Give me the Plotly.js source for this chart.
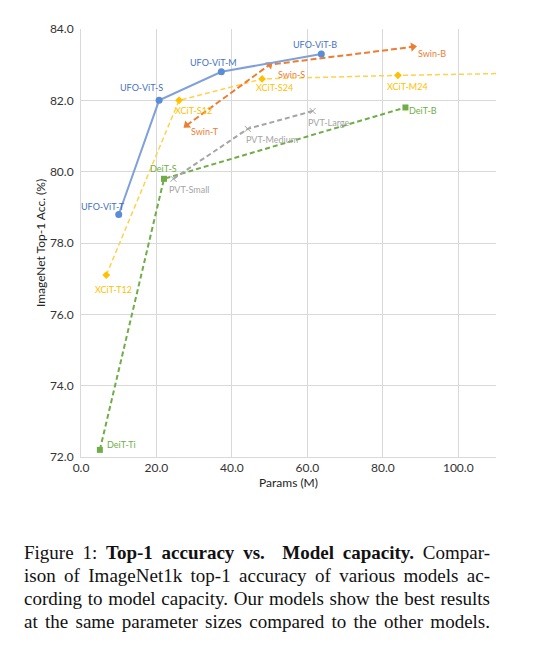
<!DOCTYPE html>
<html>
<head>
<meta charset="utf-8">
<script src="https://cdn.plot.ly/plotly-3.0.1.min.js"></script>
<style>
    body { margin: 0; background: white; }
    #chart { position: absolute; left: 0; top: 0; width: 537px; height: 510px; }
    #caption {
        position: absolute; left: 24px; top: 541px; width: 466px;
        font-family: "Liberation Serif", "DejaVu Serif", serif;
        font-size: 19px; line-height: 23px; color: #111;
    }
    #caption div { text-align: justify; text-align-last: justify; white-space: nowrap; }
</style>
</head>
<body>
<div id="chart"></div>
<div id="caption">
    <div>Figure 1: <b>Top-1 accuracy vs.&nbsp; Model capacity.</b> Compar-</div>
    <div>ison of ImageNet1k top-1 accuracy of various models ac-</div>
    <div>cording to model capacity. Our models show the best results</div>
    <div>at the same parameter sizes compared to the other models.</div>
</div>
<script>
// Params (M) and top-1 accuracy (%) for each model family
const ufoNames = ['UFO-ViT-T', 'UFO-ViT-S', 'UFO-ViT-M', 'UFO-ViT-B'];
const ufoParams = [10.0, 20.7, 37.2, 63.7];
const ufoAcc = [78.8, 82.0, 82.8, 83.3];

const swinNames = ['Swin-T', 'Swin-S', 'Swin-B'];
const swinParams = [28, 50, 88];
const swinAcc = [81.3, 83.0, 83.5];

// last XCiT point sits past the right edge of the axis
const xcitNames = ['XCiT-T12', 'XCiT-S12', 'XCiT-S24', 'XCiT-M24', ''];
const xcitParams = [6.7, 26, 48, 84, 189];
const xcitAcc = [77.1, 82.0, 82.6, 82.7, 82.9];

const pvtNames = ['PVT-Small', 'PVT-Medium', 'PVT-Large'];
const pvtParams = [24.5, 44.2, 61.4];
const pvtAcc = [79.8, 81.2, 81.7];

const deitNames = ['DeiT-Ti', 'DeiT-S', 'DeiT-B'];
const deitParams = [5.0, 22, 86];
const deitAcc = [72.2, 79.8, 81.8];

const xTicks = [0, 20, 40, 60, 80, 100];
const yTicks = [72, 74, 76, 78, 80, 82, 84];

// label offsets in pixels (dx, dy up)
const ufoOffsets = [[-16, 8], [-18, 13], [-8, 9], [-6, 9]];
const swinOffsets = [[18, -6], [22, -10], [19, -7]];
const xcitOffsets = [[7, -14], [14, -10], [12, -9], [10, -11], [0, 0]];
const pvtOffsets = [[16, -11], [24, -11], [16, -11]];
const deitOffsets = [[22, 5], [-1, 10], [18, -3]];

// arrow heads on the Swin line
const swinAngles = [230, 50, 83];

const labelFont = 'Lato, "Open Sans", sans-serif';

function makeLabels(names, xs, ys, offsets, color) {
    const out = [];
    names.forEach((n, i) => {
        if (!n) return;
        out.push({
            x: xs[i], y: ys[i], text: n, showarrow: false,
            xshift: offsets[i][0], yshift: offsets[i][1],
            font: { family: labelFont, size: 9, color: color }
        });
    });
    return out;
}

const traces = [
    {
        x: deitParams, y: deitAcc, mode: 'lines+markers', type: 'scatter', name: 'DeiT',
        line: { color: '#70AD47', width: 2, dash: '5px,3px' },
        marker: { symbol: 'square', size: 6, color: '#70AD47' }
    },
    {
        x: pvtParams, y: pvtAcc, mode: 'lines+markers', type: 'scatter', name: 'PVT',
        line: { color: '#A5A5A5', width: 2, dash: '5px,3px' },
        marker: { symbol: 'x-thin', size: 6, color: '#A5A5A5', line: { color: '#A5A5A5', width: 1 } }
    },
    {
        x: xcitParams, y: xcitAcc, mode: 'lines+markers', type: 'scatter', name: 'XCiT',
        line: { color: '#FFD24D', width: 1.5, dash: '5px,3px' },
        marker: { symbol: 'diamond', size: 6, color: '#FFC000' }
    },
    {
        x: swinParams, y: swinAcc, mode: 'lines+markers', type: 'scatter', name: 'Swin',
        line: { color: '#ED7D31', width: 2, dash: '6px,3px' },
        marker: { symbol: 'triangle-up', size: 8, color: '#ED7D31', angle: swinAngles, angleref: 'up' }
    },
    {
        x: ufoParams, y: ufoAcc, mode: 'lines+markers', type: 'scatter', name: 'UFO-ViT',
        line: { color: '#7FA0DA', width: 2 },
        marker: { symbol: 'circle', size: 7, color: '#5B8CD6' }
    }
];

const annotations = [].concat(
    makeLabels(ufoNames, ufoParams, ufoAcc, ufoOffsets, '#4472C4'),
    makeLabels(swinNames, swinParams, swinAcc, swinOffsets, '#ED7D31'),
    makeLabels(xcitNames, xcitParams, xcitAcc, xcitOffsets, '#FFC000'),
    makeLabels(pvtNames, pvtParams, pvtAcc, pvtOffsets, '#A5A5A5'),
    makeLabels(deitNames, deitParams, deitAcc, deitOffsets, '#70AD47')
);

const layout = {
    width: 537, height: 510,
    margin: { l: 81, r: 41, t: 29, b: 53 },
    showlegend: false,
    plot_bgcolor: 'white', paper_bgcolor: 'white',
    font: { family: labelFont, size: 12, color: '#333' },
    xaxis: {
        range: [0, 110], tickvals: xTicks, ticktext: xTicks.map(v => v.toFixed(1)),
        showgrid: true, gridcolor: '#D9D9D9', gridwidth: 1,
        showline: true, linecolor: '#D9D9D9', zeroline: false, ticks: '',
        title: { text: 'Params (M)', font: { size: 12, color: '#222' }, standoff: 4 }
    },
    yaxis: {
        range: [72, 84], tickvals: yTicks, ticktext: yTicks.map(v => v.toFixed(1)),
        showgrid: true, gridcolor: '#D9D9D9', gridwidth: 1,
        showline: true, linecolor: '#D9D9D9', zeroline: false, ticks: '',
        ticklabelstandoff: 4,
        title: { text: 'ImageNet Top-1 Acc. (%)', font: { size: 12, color: '#222' }, standoff: 1 }
    },
    annotations: annotations
};

Plotly.newPlot('chart', traces, layout, { displayModeBar: false, staticPlot: true });
</script>
</body>
</html>
